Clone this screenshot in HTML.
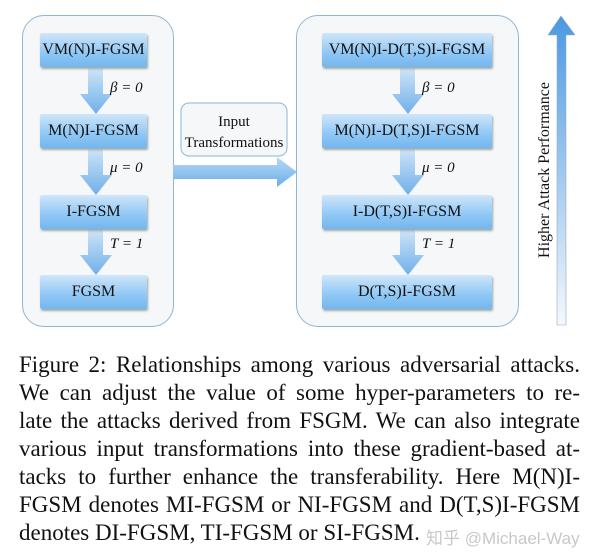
<!DOCTYPE html>
<html><head><style>
body{margin:0;width:600px;height:555px;background:#fff;position:relative;overflow:hidden;font-family:"Liberation Serif",serif}
.panel{position:absolute;top:15px;height:310px;border:1px solid #8fb6d6;border-radius:22px;background:#f6f7f8}
.box{position:absolute;height:34px;background:linear-gradient(#cfe6fa,#8ec7f5 60%,#74b6ee);box-shadow:1px 2px 2px #9aa;color:#111;font-size:16px;line-height:34px;text-align:center;border-radius:2px;white-space:nowrap}
.lab{position:absolute;font-size:15px;font-style:italic;color:#111}
.cap{position:absolute;left:19px;width:561px;height:28px;overflow:visible;font-size:23px;text-align:justify;text-align-last:justify;color:#111;line-height:28px}
svg{position:absolute;left:0;top:0}
</style></head><body>
<div class="panel" style="left:22px;width:150px"></div>
<div class="panel" style="left:296px;width:221px"></div>
<svg width="600" height="340">
<defs>
<linearGradient id="g" x1="0" y1="0" x2="0" y2="1"><stop offset="0" stop-color="#cfe4f7"/><stop offset="1" stop-color="#6fb0ea"/></linearGradient>
<linearGradient id="h" x1="0" y1="0" x2="0" y2="1"><stop offset="0" stop-color="#4a98e2"/><stop offset="1" stop-color="#f4f8fc"/></linearGradient>
<linearGradient id="hz" x1="0" y1="0" x2="0" y2="1"><stop offset="0" stop-color="#b9daf6"/><stop offset="1" stop-color="#6aaee8"/></linearGradient>
</defs>
<g fill="url(#g)">
<path d="M88 68h15v26h9l-16 20-16-20h8z"/><path d="M88 148h15v27h9l-16 20-16-20h8z"/><path d="M88 229h15v26h9l-16 20-16-20h8z"/>
<path d="M400 68h15v26h9l-16 20-16-20h8z"/><path d="M400 148h15v27h9l-16 20-16-20h8z"/><path d="M400 229h15v26h9l-16 20-16-20h8z"/>
</g>
<path d="M173 165h104v-8l20 15-20 15v-8h-104z" fill="url(#hz)"/>
<path d="M557 325v-290h-9l13-19 14 19h-9v290z" fill="url(#h)" stroke="#9ab" stroke-width="0.6"/>
<rect x="181" y="103" width="106" height="53" rx="8" fill="#f6f7f8" stroke="#8fb6d6"/>
<text x="234" y="126" font-size="15" text-anchor="middle" font-family="Liberation Serif" fill="#111">Input</text>
<text x="234" y="147" font-size="15" text-anchor="middle" font-family="Liberation Serif" fill="#111">Transformations</text>
<text transform="translate(549 170) rotate(-90)" font-size="16" text-anchor="middle" font-family="Liberation Serif" fill="#111">Higher Attack Performance</text>
</svg>
<div class="box" style="left:40px;top:33px;width:107px">VM(N)I-FGSM</div>
<div class="box" style="left:40px;top:114px;width:107px">M(N)I-FGSM</div>
<div class="box" style="left:40px;top:195px;width:107px">I-FGSM</div>
<div class="box" style="left:40px;top:275px;width:107px">FGSM</div>
<div class="box" style="left:322px;top:33px;width:170px">VM(N)I-D(T,S)I-FGSM</div>
<div class="box" style="left:322px;top:114px;width:170px">M(N)I-D(T,S)I-FGSM</div>
<div class="box" style="left:322px;top:195px;width:170px">I-D(T,S)I-FGSM</div>
<div class="box" style="left:322px;top:275px;width:170px">D(T,S)I-FGSM</div>
<div class="lab" style="left:110px;top:80px">β = 0</div>
<div class="lab" style="left:110px;top:160px">μ = 0</div>
<div class="lab" style="left:110px;top:236px">T = 1</div>
<div class="lab" style="left:422px;top:80px">β = 0</div>
<div class="lab" style="left:422px;top:160px">μ = 0</div>
<div class="lab" style="left:422px;top:236px">T = 1</div>
<div class="cap" style="top:351px">Figure 2: Relationships among various adversarial attacks.</div>
<div class="cap" style="top:379px">We can adjust the value of some hyper-parameters to re-</div>
<div class="cap" style="top:407px">late the attacks derived from FSGM. We can also integrate</div>
<div class="cap" style="top:435px">various input transformations into these gradient-based at-</div>
<div class="cap" style="top:463px">tacks to further enhance the transferability. Here M(N)I-</div>
<div class="cap" style="top:491px">FGSM denotes MI-FGSM or NI-FGSM and D(T,S)I-FGSM</div>
<div class="cap" style="top:519px;text-align-last:left">denotes DI-FGSM, TI-FGSM or SI-FGSM.</div>
<div style="position:absolute;left:426px;top:524px;font-family:'Liberation Sans','Noto Sans CJK SC',sans-serif;font-size:17px;color:#c8c8c8">知乎 @Michael-Way</div>
</body></html>
